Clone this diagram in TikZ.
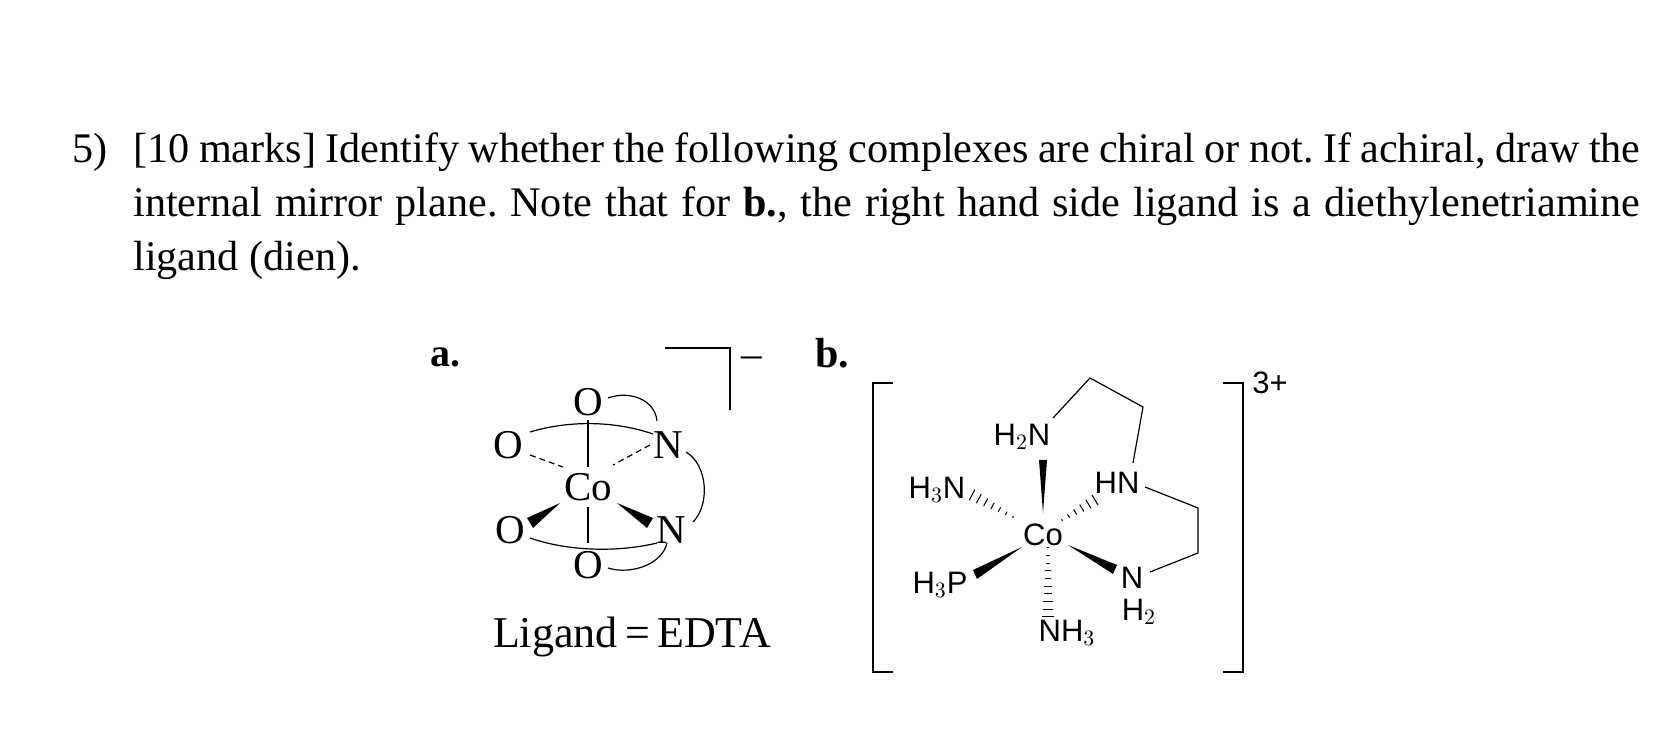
\documentclass[tikz,border=0pt]{standalone}
\usepackage{fontspec}
\usetikzlibrary{calc}
\setmainfont{Liberation Serif}
\newfontfamily\chemsans{Liberation Sans}
\frenchspacing
\begin{document}
\begin{tikzpicture}[x=0.5pt,y=-0.5pt,
  txt/.style={inner sep=0pt,anchor=base west,font=\fontsize{21.1}{25}\selectfont},
  atm/.style={inner sep=0.5pt,font=\fontsize{20.5}{22}\selectfont},
  sa/.style={inner sep=0.5pt,font=\chemsans\fontsize{15.5}{17}\selectfont},
  bd/.style={line width=0.6pt}]
\useasboundingbox (0,0) rectangle (1670,747);
% question text
\node[txt] (num) at (72,163) {5)};
\node[txt] (l1) at (133,163) {\makebox[753.5pt][s]{[10 marks] Identify whether the following complexes are chiral or not. If achiral, draw the}};
\node[txt] (l2) at (133,217) {\makebox[753.5pt][s]{internal mirror plane. Note that for \textbf{b.}, the right hand side ligand is a diethylenetriamine}};
\node[txt] (l3) at (133,271) {ligand (dien).};
% part a
\node[atm,font=\bfseries\fontsize{20}{22}\selectfont] (la) at (445,357) {a.};
\coordinate (bra1) at (665,348); \coordinate (bra2) at (730,348); \coordinate (bra3) at (730,410);
\draw[bd] (bra1) -- (bra2) -- (bra3);
\node[atm] (chg) at (752,362) {--};
\node[atm] (Ot) at (588,402) {O};
\node[atm] (Ol) at (508,445) {O};
\node[atm] (Nu) at (668,445) {N};
\node[atm] (Co) at (588,487) {Co};
\node[atm] (Oll) at (510,530) {O};
\node[atm] (Nl) at (671,530) {N};
\node[atm] (Ob) at (588,565) {O};
\coordinate (c1) at (588,420); \coordinate (c2) at (588,467);
\coordinate (c3) at (588,507); \coordinate (c4) at (588,543);
\draw[bd] (c1) -- (c2); \draw[bd] (c3) -- (c4);
\coordinate (d1) at (530,455); \coordinate (d2) at (563,467);
\coordinate (d3) at (650,445); \coordinate (d4) at (613,465);
\draw[bd,dash pattern=on 3pt off 2pt] (d1) -- (d2);
\draw[bd,dash pattern=on 3pt off 2pt] (d3) -- (d4);
\coordinate (w1) at (560,503); \coordinate (w1a) at (527,518); \coordinate (w1b) at (533,528);
\fill (w1) -- (w1a) -- (w1b) -- cycle;
\coordinate (w2) at (617,503); \coordinate (w2a) at (653,518); \coordinate (w2b) at (647,528);
\fill (w2) -- (w2a) -- (w2b) -- cycle;
\coordinate (a1) at (530,432); \coordinate (a2) at (653,434);
\draw[bd] (a1) .. controls (570,420) and (615,421) .. (a2);
\coordinate (a3) at (530,538); \coordinate (a4) at (657,543);
\draw[bd] (a3) .. controls (570,552) and (620,552) .. (a4);
\coordinate (a5) at (608,398); \coordinate (a6) at (657,421);
\draw[bd] (a5) .. controls (630,390) and (655,400) .. (a6);
\coordinate (a7) at (686,452); \coordinate (a8) at (693,522);
\draw[bd] (a7) .. controls (708,465) and (710,505) .. (a8);
\coordinate (a9) at (608,568); \coordinate (a10) at (667,543);
\draw[bd] (a9) .. controls (630,575) and (662,565) .. (a10);
\node[atm,font=\fontsize{22}{24}\selectfont] (lig) at (632,637) {Ligand\,=\,EDTA};
% part b
\node[atm,font=\bfseries\fontsize{21}{23}\selectfont] (lb) at (832,353) {b.};
\coordinate (L1) at (893,383); \coordinate (L2) at (873,383); \coordinate (L3) at (873,672); \coordinate (L4) at (893,672);
\draw[bd] (L1) -- (L2) -- (L3) -- (L4);
\coordinate (R1) at (1223,383); \coordinate (R2) at (1243,383); \coordinate (R3) at (1243,672); \coordinate (R4) at (1223,672);
\draw[bd] (R1) -- (R2) -- (R3) -- (R4);
\node[sa] (ch3) at (1270,383) {3+};
\node[sa] (Cob) at (1043,535) {Co};
\node[sa] (H2N) at (1022,437) {H$_2$N};
\node[sa] (H3N) at (937,490) {H$_3$N};
\node[sa] (HN) at (1117,483) {HN};
\node[sa] (H3P) at (940,585) {H$_3$P};
\node[sa] (Nl2) at (1132,578) {N};
\node[sa] (H2) at (1139,612) {H$_2$};
\node[sa] (NH3) at (1067,633) {NH$_3$};
% wedges
\coordinate (e1) at (1043,513); \coordinate (e1a) at (1039,460); \coordinate (e1b) at (1047,460);
\fill (e1) -- (e1a) -- (e1b) -- cycle;
\coordinate (e2) at (1022,547); \coordinate (e2a) at (973,570); \coordinate (e2b) at (977,579);
\fill (e2) -- (e2a) -- (e2b) -- cycle;
\coordinate (e3) at (1068,545); \coordinate (e3a) at (1117,565); \coordinate (e3b) at (1113,574);
\fill (e3) -- (e3a) -- (e3b) -- cycle;
% hashes
\foreach \i in {0,...,6}{\pgfmathsetmacro\t{\i/6}
 \pgfmathsetmacro\h{1+5*\t}
 \draw[line width=0.5pt] ($(1013,517)!\t!(972,495)$) ++(\h*0.47,\h*-0.88) -- ++(-\h*0.94,\h*1.76);}
\foreach \i in {0,...,5}{\pgfmathsetmacro\t{\i/5}
 \pgfmathsetmacro\h{1+5*\t}
 \draw[line width=0.5pt] ($(1062,520)!\t!(1095,500)$) ++(\h*0.52,\h*0.86) -- ++(-\h*1.04,-\h*1.72);}
\foreach \i in {0,...,9}{\pgfmathsetmacro\t{\i/9}
 \pgfmathsetmacro\h{1+5*\t}
 \draw[line width=0.5pt] ($(1048,548)!\t!(1048,617)$) ++(-\h,0) -- ++(2*\h,0);}
% dien chain
\coordinate (p1) at (1053,418); \coordinate (p2) at (1090,378); \coordinate (p3) at (1143,407); \coordinate (p4) at (1133,463);
\draw[bd] (p1) -- (p2) -- (p3) -- (p4);
\coordinate (q1) at (1145,487); \coordinate (q2) at (1198,508); \coordinate (q3) at (1198,553); \coordinate (q4) at (1150,572);
\draw[bd] (q1) -- (q2) -- (q3) -- (q4);
\end{tikzpicture}
\end{document}
